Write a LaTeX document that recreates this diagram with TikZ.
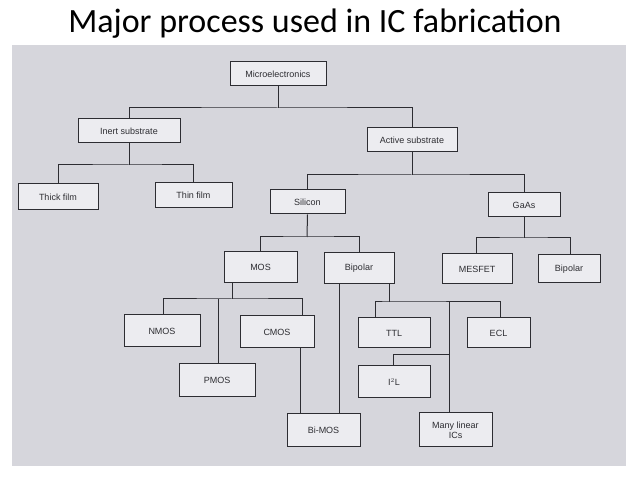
\documentclass[tikz,border=0pt]{standalone}
\usepackage{fontspec}
\setmainfont{Carlito}
\newfontfamily\boxfont{Liberation Sans}
\definecolor{page}{RGB}{214,214,220}
\definecolor{ink}{RGB}{45,45,50}
\definecolor{boxfill}{RGB}{236,236,240}
\begin{document}
\begin{tikzpicture}[x=1pt,y=-1pt,
  bx/.style={draw=ink,line width=1pt,fill=boxfill,font=\boxfont\fontsize{9}{10}\selectfont,text=ink,align=center,inner sep=0pt},
  ln/.style={draw=ink,line width=1pt}]
\useasboundingbox (0,0) rectangle (638,478);
\fill[white] (0,0) rectangle (638,478);
\fill[page] (12,45) rectangle (626,466);
\node[font=\fontsize{34}{38}\selectfont] (title) at (315,24) {Major process used in IC fabrication};
\newcommand\bxat[6]{\node[bx,minimum width=#4-#2,minimum height=#5-#3] (#1) at ({(#2+#4)/2},{(#3+#5)/2}) {#6};}
\bxat{micro}{230}{62}{326}{86}{Microelectronics}
\bxat{inert}{78}{119}{180}{143}{Inert substrate}
\bxat{active}{367}{128}{457}{152}{Active substrate}
\bxat{thick}{18}{184}{98}{210}{Thick film}
\bxat{thin}{155}{183}{232}{208}{Thin film}
\bxat{si}{270}{190}{345}{214}{Silicon}
\bxat{gaas}{488}{193}{560}{217}{GaAs}
\bxat{mos}{224}{252}{297}{283}{MOS}
\bxat{bip}{324}{253}{394}{284}{Bipolar}
\bxat{mesfet}{442}{254}{512}{284}{MESFET}
\bxat{bip2}{538}{255}{600}{283}{Bipolar}
\bxat{nmos}{124}{315}{200}{347}{NMOS}
\bxat{cmos}{240}{316}{314}{348}{CMOS}
\bxat{ttl}{358}{318}{430}{348}{TTL}
\bxat{ecl}{467}{318}{530}{348}{ECL}
\bxat{pmos}{179}{364}{255}{397}{PMOS}
\bxat{iil}{358}{366}{430}{398}{I$^2$L}
\bxat{bimos}{287}{414}{360}{447}{Bi-MOS}
\bxat{lin}{419}{413}{492}{447}{Many linear\\ICs}
\draw[ln] (micro.south) -- (278,108) coordinate (j1);
\draw[ln] (inert.north) |- (j1) -| (active.north);
\draw[ln] (inert.south) -- (129,165) coordinate (j2);
\draw[ln] (thick.north) |- (j2) -| (thin.north);
\draw[ln] (active.south) -- (412,175) coordinate (j3);
\draw[ln] (si.north) |- (j3) -| (gaas.north);
\draw[ln] (si.south) -- (307,237) coordinate (j4);
\draw[ln] (mos.north -| 260,0) |- (j4) -| (bip.north -| 359,0);
\draw[ln] (gaas.south) -- (524,238) coordinate (j5);
\draw[ln] (mesfet.north -| 476,0) |- (j5) -| (bip2.north -| 570,0);
\draw[ln] (mos.south -| 232,0) -- (232,299) coordinate (j6);
\draw[ln] (nmos.north -| 163,0) |- (j6) -| (cmos.north -| 302,0);
\draw[ln] (218,299) -- (pmos.north -| 218,0);
\draw[ln] (cmos.south -| 300,0) -- (bimos.north -| 300,0);
\draw[ln] (bip.south -| 339,0) -- (bimos.north -| 339,0);
\draw[ln] (bip.south -| 389,0) -- (389,302) coordinate (j7);
\draw[ln] (ttl.north -| 375,0) |- (j7) -| (ecl.north -| 500,0);
\draw[ln] (449,302) -- (lin.north -| 449,0);
\draw[ln] (449,355) -| (iil.north -| 393,0);
\end{tikzpicture}
\end{document}
